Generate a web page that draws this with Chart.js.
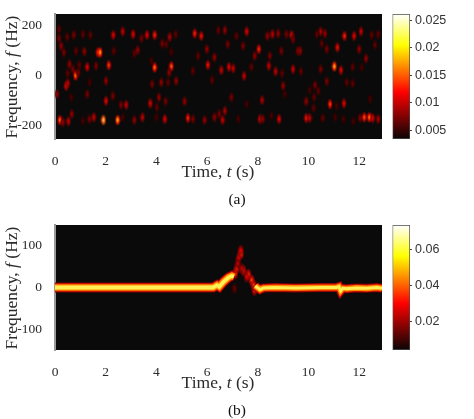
<!DOCTYPE html>
<html>
<head>
<meta charset="utf-8">
<script src="https://cdn.jsdelivr.net/npm/chart.js@4"></script>
<style>
    html, body { margin: 0; padding: 0; background: #fff; width: 474px; height: 419px; overflow: hidden; }
    canvas { position: absolute; filter: blur(0.45px); }
    .label { position: absolute; transform: translate(-50%, -50%); white-space: nowrap; color: #2b2b2b;
             font-family: "Liberation Serif", serif; font-size: 17.5px; }
    .vert { transform: translate(-50%, -50%) rotate(-90deg); }
    .cap { font-size: 15.5px; color: #111; }
</style>
</head>
<body>
<canvas id="mainA" width="388" height="190" style="left:0;top:0"></canvas>
<canvas id="barA" width="86" height="190" style="left:388px;top:0"></canvas>
<canvas id="mainB" width="388" height="190" style="left:0;top:211px"></canvas>
<canvas id="barB" width="86" height="190" style="left:388px;top:211px"></canvas>

<div class="label vert" style="left:11px;top:77px">Frequency, <i>f</i> (Hz)</div>
<div class="label" style="left:218px;top:171px">Time, <i>t</i> (s)</div>
<div class="label cap" style="left:237px;top:199px">(a)</div>
<div class="label vert" style="left:11px;top:288px">Frequency, <i>f</i> (Hz)</div>
<div class="label" style="left:218px;top:382px">Time, <i>t</i> (s)</div>
<div class="label cap" style="left:237px;top:410px">(b)</div>

<script>
const timeTicks = [0, 2, 4, 6, 8, 10, 12];
const timeMax = 12.9;

// panel (a)
const freqTicksA = [-200, 0, 200];
const freqRangeA = [-256, 245];
const barTicksA = [0.005, 0.01, 0.015, 0.02, 0.025];
const barRangeA = [0.0034, 0.0262];

const spotTimesA = [
    0.16, 0.48, 0.74, 1.10, 1.40, 2.30, 2.67, 3.08,
    0.16, 0.24, 0.35, 0.83, 1.16, 1.69, 1.78, 2.32, 3.13,
    0.57, 0.70, 0.96, 1.27, 1.62, 2.12, 0.81, 0.92, 0.50,
    0.44, 0.50, 2.01, 1.36, 1.27, 0.08, 0.64, 2.28, 2.01, 2.60, 2.81,
    0.66, 0.19, 0.31, 0.53, 1.10, 1.36, 1.53, 1.91, 2.47, 2.67, 3.13,
    3.63, 3.93, 3.41, 4.52, 4.76, 5.51, 5.77,
    3.26, 4.23, 4.39, 4.59, 5.99, 6.29,
    3.93, 4.59, 4.50, 3.80, 6.03, 5.64, 5.44,
    4.19, 4.78, 3.83, 4.46, 6.20,
    3.76, 4.10, 4.36, 4.02, 5.11,
    3.45, 4.33, 5.24, 5.44, 5.90, 6.29, 4.00,
    6.70, 7.56, 6.44, 8.38, 8.58, 8.80, 9.13, 9.33, 7.16, 9.39,
    6.81, 7.42, 8.04, 7.88, 8.47, 8.93, 9.59,
    6.56, 6.86, 7.03, 7.46, 7.75, 8.43, 8.70, 8.96, 9.39,
    9.00, 6.96, 8.17, 7.56, 9.06,
    6.70, 6.48, 6.61, 7.23, 8.08, 8.19, 8.84, 8.54,
    10.48, 10.65, 11.42, 11.80, 12.07, 10.33, 12.49, 12.75,
    11.14, 10.52, 10.72, 12.00, 12.62, 9.67, 12.27,
    11.02, 11.28, 10.48, 11.74, 9.70, 12.10,
    10.72, 10.26, 11.51, 11.74, 10.04, 10.39, 10.22,
    9.91, 10.85, 11.40, 11.11, 10.20, 12.43,
    9.91, 10.04, 10.56, 11.05, 11.38, 11.77, 12.03, 12.20, 12.40, 12.53, 12.75
];
const spotFreqsA = [
    184, 153, 161, 164, 161, 161, 175, 164,
    148, 117, 91, 97, 95, 91, 91, 97, 87,
    44, 24, 41, 33, 37, 40, -1, 11, 7,
    -43, -33, -23, -29, -76, -76, -89, -83, -103, -119, -119,
    -156, -180, -189, -185, -183, -176, -169, -180, -180, -169, -180,
    161, 161, 148, 153, 164, 167, 157,
    100, 127, 124, 93, 104, 71,
    31, 35, 11, 57, 41, 77, 17,
    -29, -23, -36, -29, -20,
    -113, -89, -105, -129, -105,
    -169, -176, -172, -176, -180, -169, -169,
    180, 175, 180, 157, 164, 167, 164, 161, 157, 144,
    124, 117, 104, 77, 77, 97, 97,
    20, 33, 27, -3, 33, 37, 15, 7, 24,
    -43, -89, -100, -116, -76,
    -143, -156, -180, -176, -176, -176, -176, -163,
    175, 167, 157, 157, 175, 164, 161, 164,
    111, 127, 104, 104, 121, 97, 67,
    35, 20, 24, 33, 15, 31,
    -25, -40, -29, -33, -60, -63, -89,
    -105, -116, -113, -123, -132, -96,
    -172, -172, -172, -169, -176, -185, -172, -169, -169, -172, -176
];
const spotLevelsA = [
    .007, .007, .008, .007, .007, .012, .011, .012,
    .008, .009, .008, .007, .009, .014, .020, .007, .007,
    .009, .008, .007, .012, .008, .015, .018, .008, .007,
    .013, .011, .009, .006, .008, .009, .006, .008, .012, .008, .011,
    .009, .017, .009, .011, .006, .008, .011, .024, .021, .006, .009,
    .012, .014, .008, .010, .007, .014, .013,
    .009, .008, .007, .006, .009, .009,
    .018, .017, .009, .006, .013, .007, .007,
    .009, .009, .008, .007, .007,
    .012, .009, .008, .007, .009,
    .011, .012, .014, .008, .009, .009, .006,
    .009, .012, .007, .009, .011, .009, .008, .012, .007, .008,
    .008, .008, .014, .009, .008, .008, .009,
    .011, .012, .011, .011, .007, .011, .011, .007, .011,
    .009, .008, .010, .006, .006,
    .010, .008, .011, .006, .011, .009, .012, .006,
    .010, .009, .014, .012, .011, .007, .007, .007,
    .013, .007, .008, .009, .007, .009, .009,
    .021, .012, .008, .007, .007, .006,
    .008, .008, .007, .007, .006, .007, .007,
    .009, .015, .012, .006, .007, .006,
    .013, .011, .007, .006, .006, .006, .008, .016, .018, .012, .010
];

// panel (b)
const freqTicksB = [-100, 0, 100];
const freqRangeB = [-150, 150];
const barTicksB = [0.02, 0.04, 0.06];
const barRangeB = [0.004, 0.0738];

const ridgeTimes = [0, 3, 6.1, 6.24, 6.39, 6.48, 6.65, 6.84, 6.98, 7.06];
const ridgeFreqs = [0, 0, 0, 0, 5.5, 2, 13.7, 24, 28, 26];
const tailTimes = [7.9, 7.96, 8.09, 8.22, 8.67, 9.5, 10.5, 11.1, 11.2, 11.27, 11.35, 11.5, 11.9, 12.3, 12.7, 12.9];
const tailFreqs = [4, 1, -5, -1, 0, -1, 0, 0, 2, -8, -2, -3, -1, -2, 0, -2];

const spotTimesB = [7.33, 7.33, 7.24, 7.17, 7.10, 7.43, 7.63, 7.76, 7.84, 7.56, 7.08, 7.37, 7.21, 7.87];
const spotFreqsB = [81.5, 89, 70, 45.5, 33, 41, 31, 17.5, 5.5, 25.5, -2.5, 45, 57.5, -6.5];
const spotLevelsB = [.048, .030, .030, .036, .040, .036, .040, .040, .040, .030, .015, .026, .026, .035];

const bandWidths = [10, 8.4, 6.6, 3.8];
const bandColors = ['#7d0000', '#e01400', '#ff8a00', '#fff154'];
const tailWidths = [9, 7.4, 5.6, 3];

const hotStops = [
    [0, '#0a0404'],
    [0.375, '#ff0000'],
    [0.75, '#ffff00'],
    [1, '#ffffff']
];
const plotBlack = '#0a0a0a';
const textColor = '#2b2b2b';
const serif = '"Liberation Serif", serif';
const sans = '"Liberation Sans", sans-serif';

function hotColor(f) {
    // same colormap as the colorbar, for one level
    f = Math.max(0, Math.min(1, f));
    let r, g, b;
    if (f < 0.375) { r = 10 + 245 * f / 0.375; g = 0; b = 0; }
    else if (f < 0.75) { r = 255; g = 255 * (f - 0.375) / 0.375; b = 0; }
    else { r = 255; g = 255; b = 255 * (f - 0.75) / 0.25; }
    return [Math.round(r), Math.round(g), Math.round(b)];
}

function makeSpot(level, range, w, h) {
    const f = (level - range[0]) / (range[1] - range[0]);
    const c = hotColor(f);
    const edge = hotColor(f * 0.55);
    const cv = document.createElement('canvas');
    cv.width = w;
    cv.height = h;
    const g = cv.getContext('2d');
    g.translate(w / 2, h / 2);
    g.scale(1, h / w);
    const grad = g.createRadialGradient(0, 0, 0, 0, 0, w / 2);
    grad.addColorStop(0, `rgb(${c})`);
    grad.addColorStop(0.5, `rgba(${edge},0.9)`);
    grad.addColorStop(1, `rgba(${edge},0)`);
    g.fillStyle = grad;
    g.beginPath();
    g.arc(0, 0, w / 2, 0, Math.PI * 2);
    g.fill();
    return cv;
}

const plotBackground = {
    id: 'plotBackground',
    beforeDraw(chart) {
        const a = chart.chartArea;
        chart.ctx.fillStyle = plotBlack;
        chart.ctx.fillRect(a.left, a.top, a.width, a.height);
    }
};

function toPoints(xs, ys) {
    return xs.map((x, i) => ({ x: x, y: ys[i] }));
}

function spotDataset(times, freqs, levels, range, w, h) {
    return {
        data: toPoints(times, freqs),
        showLine: false,
        pointRadius: 3,
        pointStyle: levels.map(v => makeSpot(v, range, w, h)),
        order: 10
    };
}

function lineDataset(times, freqs, width, color, order) {
    return {
        data: toPoints(times, freqs),
        showLine: true,
        borderColor: color,
        borderWidth: width,
        pointRadius: 0,
        tension: 0,
        order: order
    };
}

function mainChart(id, datasets, yRange, yTicks) {
    return new Chart(document.getElementById(id), {
        type: 'scatter',
        data: { datasets: datasets },
        plugins: [plotBackground],
        options: {
            responsive: false,
            animation: false,
            events: [],
            layout: { padding: { top: 14, right: 6, bottom: 0, left: 0 } },
            plugins: { legend: { display: false }, tooltip: { enabled: false } },
            scales: {
                x: {
                    type: 'linear',
                    min: 0,
                    max: timeMax,
                    grid: { display: false },
                    border: { display: false },
                    afterBuildTicks: s => { s.ticks = timeTicks.map(v => ({ value: v })); },
                    afterFit: s => { s.height = 51; },
                    ticks: {
                        maxRotation: 0,
                        autoSkip: false,
                        padding: 6,
                        color: textColor,
                        font: { family: serif, size: 13.5 }
                    }
                },
                y: {
                    type: 'linear',
                    min: yRange[0],
                    max: yRange[1],
                    grid: { display: false },
                    border: { display: true, color: '#9a9a9a', width: 2 },
                    afterBuildTicks: s => { s.ticks = yTicks.map(v => ({ value: v })); },
                    afterFit: s => { s.width = 55; },
                    ticks: {
                        autoSkip: false,
                        padding: 5,
                        color: textColor,
                        font: { family: serif, size: 13.5 }
                    }
                }
            }
        }
    });
}

function barChart(id, range, ticks) {
    return new Chart(document.getElementById(id), {
        type: 'bar',
        data: {
            labels: [''],
            datasets: [{
                data: [range],
                barPercentage: 1,
                categoryPercentage: 1,
                borderWidth: 1,
                borderColor: '#4a4a4a',
                borderSkipped: false,
                backgroundColor: function (ctx) {
                    const a = ctx.chart.chartArea;
                    if (!a) return '#000';
                    const grad = ctx.chart.ctx.createLinearGradient(0, a.bottom, 0, a.top);
                    hotStops.forEach(s => grad.addColorStop(s[0], s[1]));
                    return grad;
                }
            }]
        },
        options: {
            responsive: false,
            animation: false,
            events: [],
            layout: { padding: { top: 14, left: 4.5, right: 0, bottom: 51 } },
            plugins: { legend: { display: false }, tooltip: { enabled: false } },
            scales: {
                x: { display: false },
                y: {
                    position: 'right',
                    min: range[0],
                    max: range[1],
                    border: { display: false },
                    grid: { drawOnChartArea: false, tickLength: 2, color: '#444' },
                    afterBuildTicks: s => { s.ticks = ticks.map(v => ({ value: v })); },
                    afterFit: s => { s.width = 64; },
                    ticks: {
                        autoSkip: false,
                        padding: 3,
                        color: '#333',
                        font: { family: sans, size: 12.5 },
                        callback: v => String(v)
                    }
                }
            }
        }
    });
}

const datasetsA = [spotDataset(spotTimesA, spotFreqsA, spotLevelsA, barRangeA, 6, 12)];

const datasetsB = [spotDataset(spotTimesB, spotFreqsB, spotLevelsB, barRangeB, 7, 13)];
bandWidths.forEach((w, i) => {
    datasetsB.push(lineDataset(ridgeTimes, ridgeFreqs, w, bandColors[i], 5 - i));
    datasetsB.push(lineDataset(tailTimes, tailFreqs, tailWidths[i], bandColors[i], 5 - i));
});

mainChart('mainA', datasetsA, freqRangeA, freqTicksA);
barChart('barA', barRangeA, barTicksA);
mainChart('mainB', datasetsB, freqRangeB, freqTicksB);
barChart('barB', barRangeB, barTicksB);
</script>
</body>
</html>
